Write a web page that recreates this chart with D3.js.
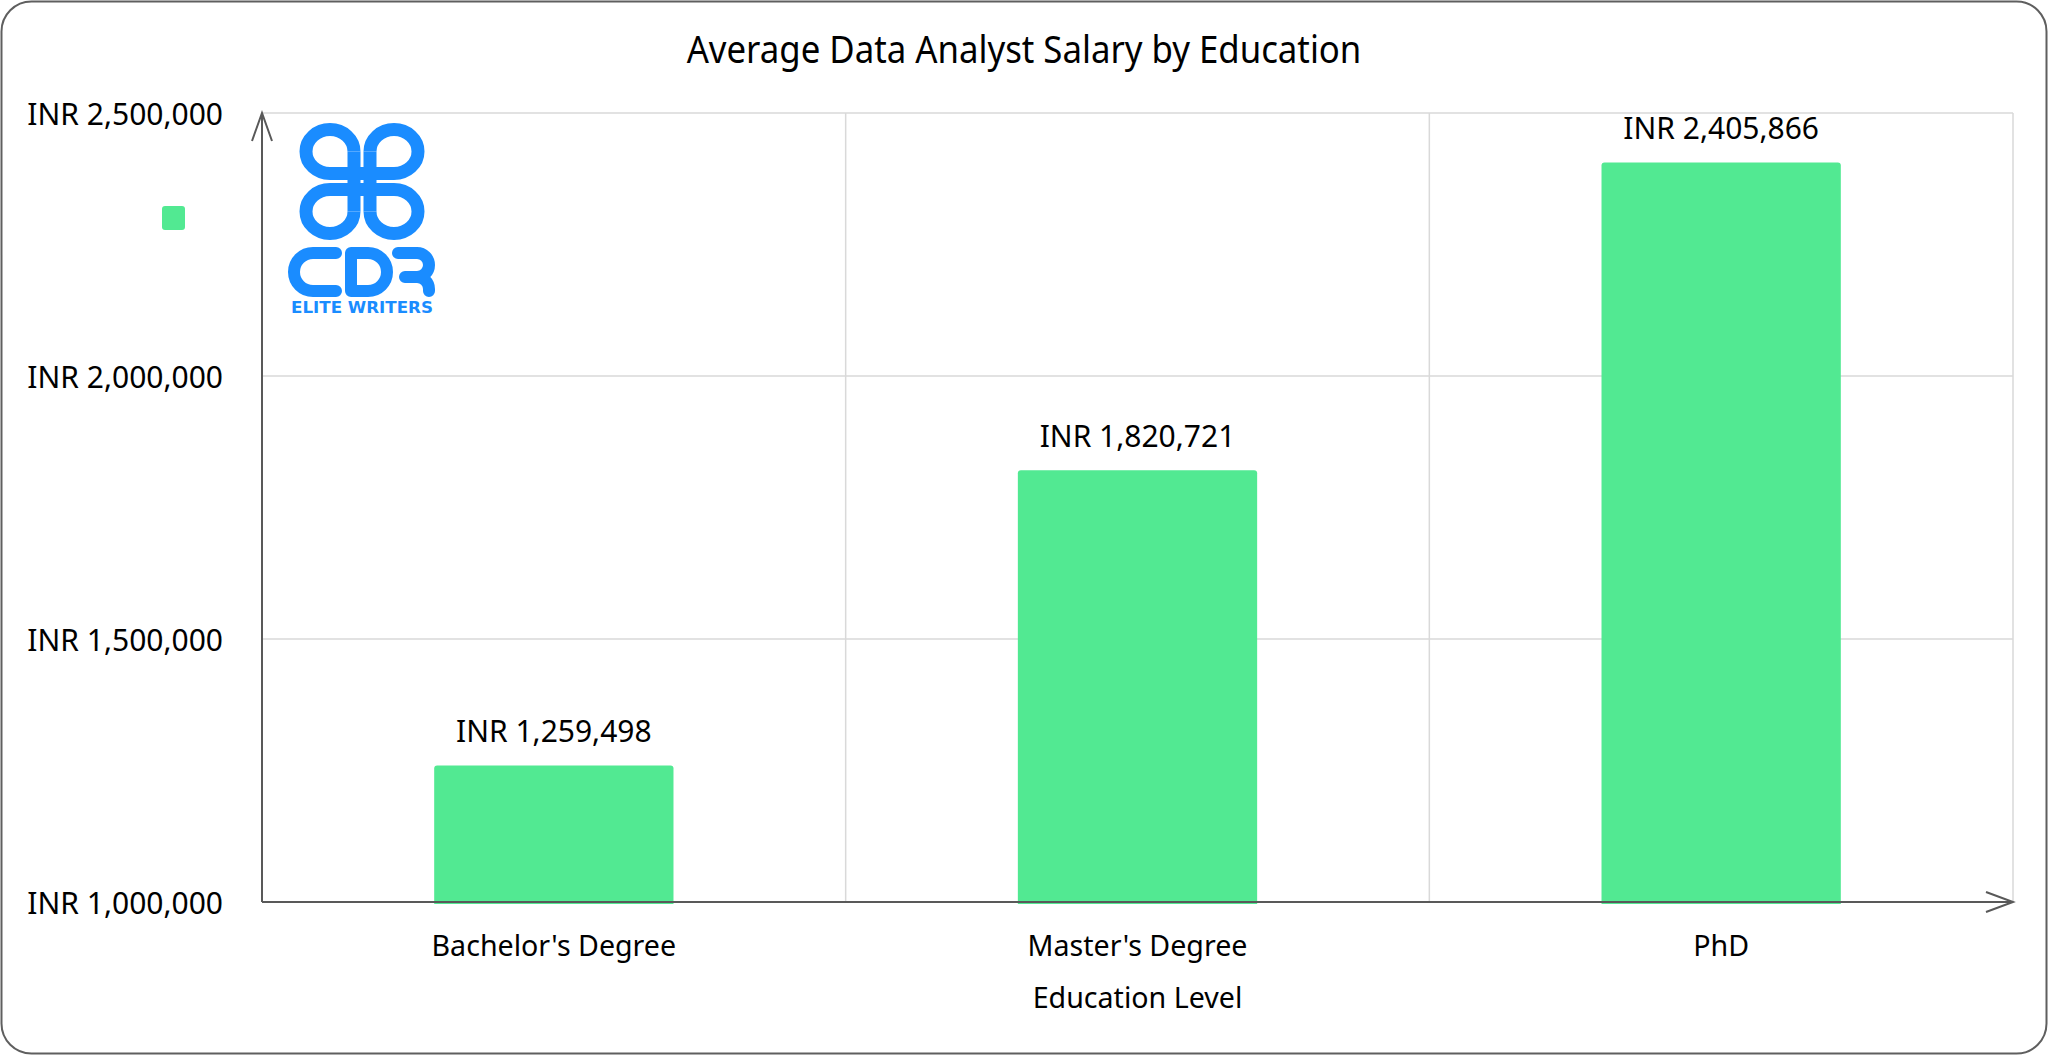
<!DOCTYPE html>
<html>
<head>
<meta charset="utf-8">
<script src="https://cdn.jsdelivr.net/npm/d3@7"></script>
<style>
  html, body { margin: 0; padding: 0; background: #ffffff; }
  svg { display: block; }
</style>
</head>
<body>
<svg id="chart" width="2048" height="1055"></svg>
<script>
// ---- Data ----
const categories = ["Bachelor's Degree", "Master's Degree", "PhD"];
const salaries = [1259498, 1820721, 2405866];
const yTicks = [1000000, 1500000, 2000000, 2500000];
const titleText = "Average Data Analyst Salary by Education";
const xAxisTitle = "Education Level";

// ---- Layout ----
const W = 2048, H = 1055;
const plot = { left: 262, right: 2013, top: 113, bottom: 902 };
const barColor = "#52e992";
const gridColor = "#d9d9d9";
const axisColor = "#595959";
const font = "'Noto Sans', 'Open Sans', sans-serif";

const svg = d3.select("#chart");

// outer border
svg.append("rect")
  .attr("x", 1.5).attr("y", 1.5)
  .attr("width", W - 3).attr("height", H - 3)
  .attr("rx", 30).attr("ry", 30)
  .attr("fill", "#fff").attr("stroke", "#5f5f5f").attr("stroke-width", 2);

// title (narrowed to match the condensed face of the original)
const title = svg.append("text")
  .attr("x", 0).attr("y", 0)
  .attr("text-anchor", "middle").attr("dominant-baseline", "central")
  .style("font-family", font).style("font-size", "38px").attr("fill", "#000")
  .text(titleText);
{
  const len = title.node().getComputedTextLength();
  const sx = 675 / len;
  title.attr("transform", `translate(${W / 2},48) scale(${sx},1)`);
}

// scales
const x = d3.scaleBand().domain(categories).range([plot.left, plot.right]).paddingInner(0.59).paddingOuter(0.295);
const xb = d3.scaleBand().domain(categories).range([plot.left, plot.right]).padding(0);
const y = d3.scaleLinear().domain([1000000, 2500000]).range([plot.bottom, plot.top]);

const inr = v => "INR " + d3.format(",")(v);

// horizontal gridlines
svg.append("g").selectAll("line").data(yTicks.slice(1)).join("line")
  .attr("x1", plot.left).attr("x2", plot.right)
  .attr("y1", d => y(d)).attr("y2", d => y(d))
  .attr("stroke", gridColor).attr("stroke-width", 1.5);

// vertical gridlines at band boundaries
svg.append("g").selectAll("line").data(categories).join("line")
  .attr("x1", d => xb(d) + xb.bandwidth()).attr("x2", d => xb(d) + xb.bandwidth())
  .attr("y1", plot.top).attr("y2", plot.bottom)
  .attr("stroke", gridColor).attr("stroke-width", 1.5);

// y tick labels
svg.append("g").selectAll("text").data(yTicks).join("text")
  .attr("x", 223).attr("y", d => y(d))
  .attr("text-anchor", "end").attr("dominant-baseline", "central")
  .style("font-family", font).style("font-size", "30px").attr("fill", "#000")
  .text(d => inr(d));

// bars
svg.append("g").selectAll("path").data(salaries).join("path")
  .attr("d", (d, i) => {
    const x0 = x(categories[i]), w = x.bandwidth();
    const y0 = y(d), y1 = plot.bottom + 2, r = 3;
    return `M${x0},${y1} V${y0 + r} Q${x0},${y0} ${x0 + r},${y0} H${x0 + w - r} Q${x0 + w},${y0} ${x0 + w},${y0 + r} V${y1} Z`;
  })
  .attr("fill", barColor);

// bar value labels
svg.append("g").selectAll("text").data(salaries).join("text")
  .attr("x", (d, i) => x(categories[i]) + x.bandwidth() / 2)
  .attr("y", d => y(d) - 35)
  .attr("text-anchor", "middle").attr("dominant-baseline", "central")
  .style("font-family", font).style("font-size", "30px").attr("fill", "#000")
  .text(d => inr(d));

// axes lines with arrows
const axG = svg.append("g").attr("stroke", axisColor).attr("stroke-width", 2).attr("fill", "none");
axG.append("line").attr("x1", plot.left).attr("x2", plot.right).attr("y1", plot.bottom).attr("y2", plot.bottom);
axG.append("line").attr("x1", plot.left).attr("x2", plot.left).attr("y1", plot.bottom).attr("y2", plot.top);
axG.append("path").attr("d", `M${plot.right - 27},${plot.bottom - 10} L${plot.right},${plot.bottom} L${plot.right - 27},${plot.bottom + 10}`);
axG.append("path").attr("d", `M${plot.left - 10},${plot.top + 28} L${plot.left},${plot.top} L${plot.left + 10},${plot.top + 28}`);

// category labels
svg.append("g").selectAll("text").data(categories).join("text")
  .attr("x", d => xb(d) + xb.bandwidth() / 2).attr("y", 944)
  .attr("text-anchor", "middle").attr("dominant-baseline", "central")
  .style("font-family", font).style("font-size", "28.6px").attr("fill", "#000")
  .text(d => d);

// x axis title
svg.append("text")
  .attr("x", xb(categories[1]) + xb.bandwidth() / 2).attr("y", 996)
  .attr("text-anchor", "middle").attr("dominant-baseline", "central")
  .style("font-family", font).style("font-size", "28.6px").attr("fill", "#000")
  .text(xAxisTitle);

// legend marker
svg.append("rect").attr("x", 162).attr("y", 206).attr("width", 23).attr("height", 24)
  .attr("rx", 3).attr("fill", barColor);

// ---- Logo ----
const blue = "#1a8cff";
const logo = svg.append("g").attr("fill", "none").attr("stroke", blue).attr("stroke-width", 13);
const cx = 362, cy = 181.5, d = 8, R = 24, Ry = 22;
const lp = [
  `M${cx - d},${cy - d - Ry} A${R},${Ry} 0 1 0 ${cx - d - R},${cy - d}`,
  `M${cx + d},${cy - d - Ry} A${R},${Ry} 0 1 1 ${cx + d + R},${cy - d}`,
  `M${cx - d},${cy + d + Ry} A${R},${Ry} 0 1 1 ${cx - d - R},${cy + d}`,
  `M${cx + d},${cy + d + Ry} A${R},${Ry} 0 1 0 ${cx + d + R},${cy + d}`
];
logo.selectAll("path.loop").data(lp).join("path").attr("class", "loop").attr("d", p => p);
logo.append("path").attr("d",
  `M${cx - d},${cy - d - Ry} V${cy + d + Ry} M${cx + d},${cy - d - Ry} V${cy + d + Ry} ` +
  `M${cx - d - R},${cy - d} H${cx + d + R} M${cx - d - R},${cy + d} H${cx + d + R}`);

// CDR letters
const cdr = svg.append("g").attr("fill", "none").attr("stroke", blue).attr("stroke-width", 12)
  .attr("stroke-linecap", "round").attr("stroke-linejoin", "round");
cdr.append("path").attr("d", "M336,253 H313 A19,19 0 0 0 313,291 H336");
cdr.append("path").attr("d", "M351,253 V291 H368 A19,19 0 0 0 368,253 Z");
cdr.append("path").attr("d", "M398,253 H417 A12,12 0 0 1 417,277 H405 M417,277 A12,12 0 0 1 429,289 V291");

svg.append("text")
  .attr("x", 291).attr("y", 313)
  .attr("textLength", 142).attr("lengthAdjust", "spacingAndGlyphs")
  .style("font-family", "'DejaVu Sans', sans-serif").style("font-weight", "bold").style("font-size", "15px")
  .attr("fill", blue)
  .text("ELITE WRITERS");
</script>
</body>
</html>
